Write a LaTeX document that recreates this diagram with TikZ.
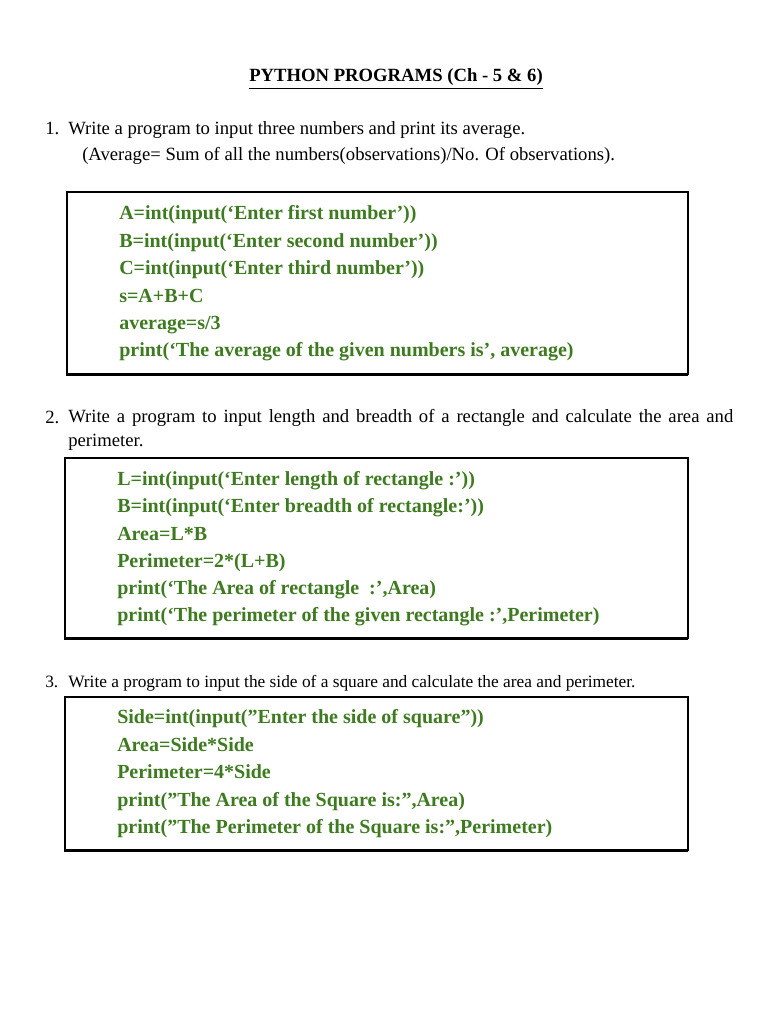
\documentclass[tikz,border=0pt]{standalone}
\usepackage{fontspec}
\setmainfont{Liberation Serif}
\definecolor{codegreen}{RGB}{62,122,32}
\newcommand{\dq}{\char34{}}
\begin{document}
\begin{tikzpicture}[x=0.75pt,y=-0.75pt,
  q/.style={anchor=base west,inner sep=0pt,font=\fontsize{14}{18}\selectfont},
  code/.style={anchor=base west,inner sep=0pt,text=codegreen,font=\bfseries\fontsize{15}{18}\selectfont},
  box/.style={draw,line width=0.8pt}]
\useasboundingbox (0,0) rectangle (768,1024);
\node[anchor=base,inner sep=0pt,font=\bfseries\fontsize{14}{18}\selectfont] (title) at (396,82) {\underline{PYTHON PROGRAMS (Ch - 5 \& 6)}};
% Q1
\node[q] (n1) at (45,134) {1.};
\node[q] (q1) at (68,134) {Write a program to input three numbers and print its average.};
\node[q] (q1b) at (82,160) {(Average= Sum of all the numbers(observations)/No. Of observations).};
\draw[box] (67,192) rectangle (688,374);
\draw[line width=1.6pt] (67,192) -- (67,375) -- (688,375);
\foreach \t [count=\i] in {A=int(input(‘Enter first number’)),B=int(input(‘Enter second number’)),C=int(input(‘Enter third number’)),s=A+B+C,average=s/3,{print(‘The average of the given numbers is’, average)}}
  \node[code] (c1\i) at (119,192.5+27.4*\i) {\t};
% Q2
\node[q] (n2) at (45,423) {2.};
\node[anchor=north west,inner sep=0pt,font=\fontsize{14}{18}\selectfont,text width=498.75pt,align=justify] (q2) at (68,409) {Write a program to input length and breadth of a rectangle and calculate the area and perimeter.};
\draw[box] (65,458) rectangle (688,638);
\draw[line width=1.6pt] (65,458) -- (65,639) -- (688,639);
\foreach \t [count=\i] in {L=int(input(‘Enter length of rectangle :’)),B=int(input(‘Enter breadth of rectangle:’)),Area=L*B,Perimeter=2*(L+B),{print(‘The Area of rectangle~~:’,Area)},{print(‘The perimeter of the given rectangle :’,Perimeter)}}
  \node[code] (c2\i) at (117,458.5+27.2*\i) {\t};
% Q3
\node[q,font=\fontsize{13}{16}\selectfont] (n3) at (45,687) {3.};
\node[q,font=\fontsize{13}{16}\selectfont] (q3) at (68,687) {Write a program to input the side of a square and calculate the area and perimeter.};
\draw[box] (65,697) rectangle (688,850);
\draw[line width=1.6pt] (65,697) -- (65,851) -- (688,851);
\foreach \t [count=\i] in {Side=int(input(\dq Enter the side of square\dq)),Area=Side*Side,Perimeter=4*Side,{print(\dq The Area of the Square is:\dq,Area)},{print(\dq The Perimeter of the Square is:\dq,Perimeter)}}
  \node[code] (c3\i) at (117,696+27.5*\i) {\t};
\end{tikzpicture}
\end{document}
